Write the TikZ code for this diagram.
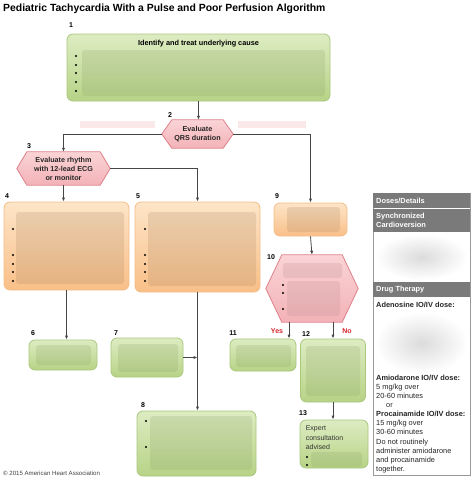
\documentclass[tikz,border=0pt]{standalone}
\usepackage{fontspec}
\setmainfont{Liberation Sans}
\usetikzlibrary{arrows.meta,backgrounds}

\definecolor{gtop}{HTML}{DDECC2}
\definecolor{gbot}{HTML}{B7D386}
\definecolor{gline}{HTML}{A9C77D}
\definecolor{otop}{HTML}{FDE5C8}
\definecolor{obot}{HTML}{F9BF88}
\definecolor{oline}{HTML}{F4BD88}
\definecolor{ptop}{HTML}{FAD4D6}
\definecolor{pbot}{HTML}{F3B2B7}
\definecolor{pline}{HTML}{DE818B}
\definecolor{panelgray}{HTML}{7A7A7A}
\definecolor{wire}{HTML}{464646}
\definecolor{yesno}{HTML}{D5232A}

\tikzset{
  gbox/.style={draw=gline, line width=0.8pt, rounded corners=6pt, top color=gtop, bottom color=gbot},
  obox/.style={draw=oline, line width=0.8pt, rounded corners=6pt, top color=otop, bottom color=obot},
  hexa/.style={align=center, font=\bfseries\fontsize{7.2}{9}\selectfont, text=black!85},
  hexfill/.style={draw=pline, line width=0.8pt, top color=ptop, bottom color=pbot},
  num/.style={font=\bfseries\fontsize{7}{8}\selectfont},
  smudge/.style={fill=#1, fill opacity=0.18, rounded corners=3pt},
  panelhead/.style={anchor=west, align=left, text=white, font=\bfseries\fontsize{7.4}{9}\selectfont},
  paneltext/.style={anchor=north west, align=left, font=\fontsize{7.4}{9}\selectfont, text=black!85},
  flow/.style={draw=wire, line width=0.8pt, -{Latex[length=4pt,width=3.2pt]}}
}

\begin{document}
\begin{tikzpicture}[x=1pt,y=-1pt,every node/.style={inner sep=0pt}]
  \useasboundingbox (0,0) rectangle (474,480);

  % title
  \node[anchor=west, font=\bfseries\fontsize{10.4}{12}\selectfont] (title) at (3,9)
    {Pediatric Tachycardia With a Pulse and Poor Perfusion Algorithm};

  % boxes
  \node[gbox, minimum width=263, minimum height=67] (1) at (198.5,67.5) {};
  \node[hexa, minimum width=71, minimum height=28] (2) at (197.5,134) {Evaluate\\QRS duration};
  \node[hexa, minimum width=93, minimum height=33] (3) at (63.5,168.5) {Evaluate rhythm\\with 12-lead ECG\\or monitor};
  \node[obox, minimum width=125, minimum height=88] (4) at (66.5,246) {};
  \node[obox, minimum width=125, minimum height=90] (5) at (197.5,247) {};
  \node[obox, minimum width=73, minimum height=33] (9) at (310.5,219.5) {};
  \node[hexa, minimum width=92, minimum height=67] (10) at (312,288.5) {};
  \node[gbox, minimum width=68, minimum height=30] (6) at (63,355) {};
  \node[gbox, minimum width=72, minimum height=39] (7) at (147,357.5) {};
  \node[gbox, minimum width=66, minimum height=32] (11) at (263,355) {};
  \node[gbox, minimum width=65, minimum height=63] (12) at (333,370.5) {};
  \node[gbox, minimum width=119, minimum height=65] (8) at (196.5,443.5) {};
  \node[gbox, minimum width=68, minimum height=48] (13) at (334,444) {};

  \begin{scope}[on background layer]
    \path[hexfill] (2.west) -- ([xshift=10]2.north west) -- ([xshift=-10]2.north east)
      -- (2.east) -- ([xshift=-10]2.south east) -- ([xshift=10]2.south west) -- cycle;
    \path[hexfill] (3.west) -- ([xshift=10]3.north west) -- ([xshift=-10]3.north east)
      -- (3.east) -- ([xshift=-10]3.south east) -- ([xshift=10]3.south west) -- cycle;
    \path[hexfill] (10.west) -- ([xshift=16]10.north west) -- ([xshift=-16]10.north east)
      -- (10.east) -- ([xshift=-16]10.south east) -- ([xshift=16]10.south west) -- cycle;
  \end{scope}

  % box texts
  \node[anchor=north, font=\bfseries\fontsize{7.3}{9}\selectfont] (t1) at ([yshift=-6]1.north)
    {Identify and treat underlying cause};
  \node[anchor=north west, align=left, font=\fontsize{7}{9.5}\selectfont, text=black!80] (t13)
    at ([xshift=6,yshift=-6]13.north west) {Expert\\consultation\\advised};

  % blurred content
  \path[smudge=gbot!70!black] (82,50) rectangle (325,96);
  \path[smudge=obot!60!black] (16,212) rectangle (124,284);
  \path[smudge=obot!60!black] (148,212) rectangle (256,286);
  \path[smudge=obot!60!black] (287,207) rectangle (340,232);
  \path[smudge=pbot!70!black] (283,263) rectangle (342,278);
  \path[smudge=pbot!70!black] (287,281) rectangle (340,316);
  \path[smudge=gbot!70!black] (36,345) rectangle (91,365);
  \path[smudge=gbot!70!black] (118,344) rectangle (178,372);
  \path[smudge=gbot!70!black] (236,345) rectangle (291,367);
  \path[smudge=gbot!70!black] (306,346) rectangle (360,396);
  \path[smudge=gbot!70!black] (150,416) rectangle (252,470);
  \path[smudge=gbot!70!black] (311,452) rectangle (362,467);
  \path[fill=pbot, fill opacity=0.3] (80,121) rectangle (155,128);
  \path[fill=pbot, fill opacity=0.3] (238,121) rectangle (306,128);

  % bullets
  \foreach \y in {56,65,73,82,91} \fill (76,\y) circle (1.1);
  \foreach \y in {229,255,264,272,281} {
    \fill (13,\y) circle (1.1);
    \fill (145,\y) circle (1.1);
  }
  \foreach \y in {285,293,309} \fill (283,\y) circle (1.1);
  \foreach \y in {421,447} \fill (146,\y) circle (1.1);
  \foreach \y in {457,465} \fill (307,\y) circle (1.1);

  % numbers
  \node[num] (l1) at (71,25) {1};
  \node[num] (l2) at (170,115) {2};
  \node[num] (l3) at (29,146) {3};
  \node[num] (l4) at (7,196) {4};
  \node[num] (l5) at (138,196) {5};
  \node[num] (l9) at (277,196) {9};
  \node[num] (l10) at (271,257) {10};
  \node[num] (l6) at (33,333) {6};
  \node[num] (l7) at (116,333) {7};
  \node[num] (l11) at (233,333) {11};
  \node[num] (l12) at (306,334) {12};
  \node[num] (l8) at (143,405) {8};
  \node[num] (l13) at (303,413) {13};
  \node[num, text=yesno] (yes) at (277,331) {Yes};
  \node[num, text=yesno] (no) at (347,331) {No};

  % connectors
  \coordinate (join) at (7.east -| 5.south);
  \begin{scope}[flow]
    \draw (1.south) -- (1.south |- 2.north);
    \draw (2.west) -| (3.north);
    \draw (2.east) -| (9.north);
    \draw (3.east) -| (5.north);
    \draw (3.south) -- (3.south |- 4.north);
    \draw (4.south) -- (4.south |- 6.north);
    \draw (5.south) -- (5.south |- 8.north);
    \draw (7.east) -- (join);
    \draw (9.south) -- (10.north);
    \draw ([xshift=-23]10.south) -- ([xshift=-23]10.south |- 11.north);
    \draw (10.south -| 12.north) -- (12.north);
    \draw (12.south) -- (12.south |- 13.north);
  \end{scope}

  % doses panel
  \node[draw=black!40, line width=0.8pt, fill=white, minimum width=97, minimum height=282] (panel) at (421.5,334) {};
  \fill[panelgray] (panel.north west) rectangle (470,208);
  \fill[panelgray] (373,209) rectangle (470,232);
  \fill[panelgray] (373,282) rectangle (470,297);
  \shade[inner color=black!14, outer color=white] (375,234) rectangle (468,280);
  \shade[inner color=black!14, outer color=white] (375,312) rectangle (468,374);
  \node[panelhead] (doses) at (376,200.5) {Doses/Details};
  \node[panelhead] (cardio) at (376,220) {Synchronized\\Cardioversion};
  \node[panelhead] (drugs) at (376,289.5) {Drug Therapy};
  \node[paneltext] (adeno) at (376,302) {\textbf{Adenosine IO/IV dose:}};
  \node[paneltext] (amio) at (376,375) {\textbf{Amiodarone IO/IV dose:}\\
    5 mg/kg over\\20-60 minutes\\\hspace*{10pt}or\\
    \textbf{Procainamide IO/IV dose:}\\15 mg/kg over\\30-60 minutes\\[1pt]
    Do not routinely\\administer amiodarone\\and procainamide\\together.};

  % footer
  \node[anchor=west, font=\fontsize{6.1}{7}\selectfont, text=black!75] (copy) at (3,473)
    {© 2015 American Heart Association};
\end{tikzpicture}
\end{document}
